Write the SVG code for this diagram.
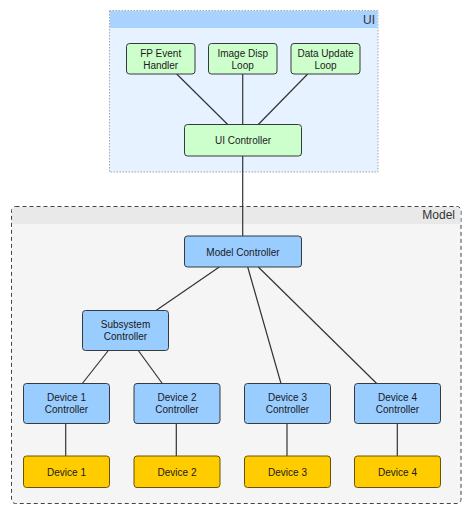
<svg xmlns="http://www.w3.org/2000/svg" width="474" height="513" viewBox="0 0 474 513">
<style>
text{font-family:"Liberation Sans",Arial,sans-serif;font-size:10px;fill:#1a1a1a;text-anchor:middle}
.lbl{font-size:12px;text-anchor:end;fill:#333}
.g{fill:#ccffcc;stroke:#36393d;stroke-width:1}
.b{fill:#99ccff;stroke:#36393d;stroke-width:1}
.y{fill:#ffcc00;stroke:#6b5400;stroke-width:1}
.c line{stroke:#333;stroke-width:1.2}
</style>
<rect width="474" height="513" fill="#fff"/>
<g id="ui">
<rect x="109.5" y="10.5" width="268.5" height="161.5" fill="#e6f2ff" stroke="#a0a8b0" stroke-dasharray="1.5 1.5"/>
<rect x="110" y="11" width="267.5" height="17" fill="#a9d2ff"/>
<text class="lbl" x="375" y="24">UI</text>
</g>
<g id="model">
<rect x="11.5" y="206.5" width="449.5" height="297" rx="4" fill="#f5f5f5" stroke="#444" stroke-dasharray="4 3"/>
<path d="M12 224V210.5A4 4 0 0 1 16 207H456.5A4 4 0 0 1 460.5 210.5V224Z" fill="#e9e9e9"/>
<text class="lbl" x="455" y="219">Model</text>
</g>
<g class="c" id="connectors">
<line x1="176.7" y1="74" x2="227.7" y2="124.5"/>
<line x1="242.7" y1="74" x2="242.7" y2="124.5"/>
<line x1="307.7" y1="74" x2="258.3" y2="124.5"/>
<line x1="242.7" y1="156" x2="242.7" y2="236"/>
<line x1="219.3" y1="267" x2="156" y2="310.5"/>
<line x1="247.7" y1="267" x2="281" y2="383.5"/>
<line x1="258.3" y1="267" x2="376.7" y2="383.5"/>
<line x1="108.3" y1="350.5" x2="82.3" y2="383.5"/>
<line x1="138.3" y1="350.5" x2="162.3" y2="383.5"/>
<line x1="65.7" y1="423.5" x2="65.7" y2="456"/>
<line x1="176.3" y1="423.5" x2="176.3" y2="456"/>
<line x1="287" y1="423.5" x2="287" y2="456"/>
<line x1="397.3" y1="423.5" x2="397.3" y2="456"/>
</g>
<g id="fp"><rect class="g" x="126.5" y="43.5" width="68.5" height="30.5" rx="3"/><text x="160.7" y="57">FP Event</text><text x="160.7" y="69">Handler</text></g>
<g id="img"><rect class="g" x="208.5" y="43.5" width="68.5" height="30.5" rx="3"/><text x="242.7" y="57">Image Disp</text><text x="242.7" y="69">Loop</text></g>
<g id="data"><rect class="g" x="291" y="43.5" width="69" height="30.5" rx="3"/><text x="325.5" y="57">Data Update</text><text x="325.5" y="69">Loop</text></g>
<g id="uictl"><rect class="g" x="184.5" y="124.5" width="117" height="31.5" rx="3"/><text x="243" y="144">UI Controller</text></g>
<g id="modelctl"><rect class="b" x="184.5" y="236" width="117" height="31" rx="3"/><text x="243" y="255.5">Model Controller</text></g>
<g id="subctl"><rect class="b" x="82.5" y="310.5" width="86" height="40" rx="3"/><text x="125.5" y="328">Subsystem</text><text x="125.5" y="340">Controller</text></g>
<g id="d1c"><rect class="b" x="23.5" y="383.5" width="86" height="40" rx="3"/><text x="66.5" y="401">Device 1</text><text x="66.5" y="413">Controller</text></g>
<g id="d2c"><rect class="b" x="134" y="383.5" width="86" height="40" rx="3"/><text x="177" y="401">Device 2</text><text x="177" y="413">Controller</text></g>
<g id="d3c"><rect class="b" x="244.5" y="383.5" width="86" height="40" rx="3"/><text x="287.5" y="401">Device 3</text><text x="287.5" y="413">Controller</text></g>
<g id="d4c"><rect class="b" x="354.5" y="383.5" width="86" height="40" rx="3"/><text x="397.5" y="401">Device 4</text><text x="397.5" y="413">Controller</text></g>
<g id="d1"><rect class="y" x="23.5" y="456" width="86" height="31.5" rx="3"/><text x="66.5" y="475.5">Device 1</text></g>
<g id="d2"><rect class="y" x="134" y="456" width="86" height="31.5" rx="3"/><text x="177" y="475.5">Device 2</text></g>
<g id="d3"><rect class="y" x="244.5" y="456" width="86" height="31.5" rx="3"/><text x="287.5" y="475.5">Device 3</text></g>
<g id="d4"><rect class="y" x="354.5" y="456" width="86" height="31.5" rx="3"/><text x="397.5" y="475.5">Device 4</text></g>
</svg>
